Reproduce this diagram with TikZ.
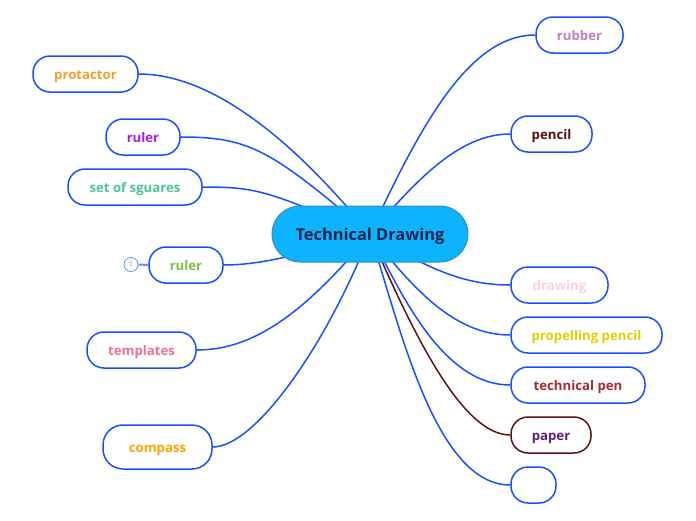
\documentclass[tikz,border=0pt]{standalone}
\usepackage{fontspec}
\setmainfont{Open Sans}
\usetikzlibrary{calc}
\pgfdeclarelayer{bg}
\pgfsetlayers{bg,main}
\definecolor{eb}{HTML}{1A4FFF}
\definecolor{onecol}{HTML}{6A8CFF}
\definecolor{cfill}{HTML}{0BB4FD}
\definecolor{cborder}{HTML}{3A8CC0}
\definecolor{ctext}{HTML}{0C2450}
\definecolor{brownline}{HTML}{5A1414}
\definecolor{cprot}{HTML}{F0A030}
\definecolor{crulerp}{HTML}{A020F0}
\definecolor{csets}{HTML}{50C0A0}
\definecolor{crulerg}{HTML}{80C040}
\definecolor{ctempl}{HTML}{F070A0}
\definecolor{ccomp}{HTML}{FFA500}
\definecolor{crubber}{HTML}{C080C0}
\definecolor{cpencil}{HTML}{501010}
\definecolor{cdrawing}{HTML}{FFD0E8}
\definecolor{cprop}{HTML}{E0D000}
\definecolor{ctpen}{HTML}{A03030}
\definecolor{cpaper}{HTML}{602080}
\begin{document}
\begin{tikzpicture}[x=1pt,y=-1pt,
  kid/.style={draw=eb, line width=1.5pt, rounded corners=17pt, fill=white,
    inner sep=0pt, minimum height=36pt, text height=12pt, text depth=1.4pt,
    font=\bfseries\fontsize{13.2}{15}\selectfont},
  link/.style={draw=eb, line width=1.5pt},
  hub/.style={draw=cborder, line width=1pt, fill=cfill, rounded corners=28pt,
    inner sep=0pt, minimum width=196pt, minimum height=56pt, text=ctext,
    text height=14pt, text depth=0.6pt,
    font=\bfseries\fontsize{16.4}{19}\selectfont}]
\useasboundingbox (0,0) rectangle (696,520);

\node[hub] (td) at (370,234) {Technical Drawing};

\node[kid, minimum width=105pt, text=cprot] (prot) at (85.5,74) {protactor};
\node[kid, minimum width=74pt, text=crulerp] (rulerp) at (143,137) {ruler};
\node[kid, minimum width=134pt, text=csets] (sets) at (135,187) {set of sguares};
\node[kid, minimum width=74pt, text=crulerg] (rulerg) at (186,265) {ruler};
\node[kid, minimum width=109pt, text=ctempl] (templ) at (141.5,350) {templates};
\node[kid, minimum width=109pt, minimum height=44pt, rounded corners=20pt, text=ccomp] (comp) at (157.5,447) {compass};

\node[kid, minimum width=87pt, text=crubber] (rubber) at (579.5,35) {rubber};
\node[kid, minimum width=81pt, text=cpencil] (pencil) at (551.5,134) {pencil};
\node[kid, minimum width=97pt, text=cdrawing] (drawing) at (559.5,285) {drawing};
\node[kid, minimum width=151pt, text=cprop] (prop) at (586.5,335) {propelling pencil};
\node[kid, minimum width=134pt, text=ctpen] (tpen) at (578,385) {technical pen};
\node[kid, minimum width=80pt, draw=brownline, text=cpaper] (paper) at (551,435) {paper};
\node[kid, minimum width=45pt] (empty) at (533.5,485) {};

\node[circle, draw=onecol, line width=0.8pt, fill=white, inner sep=0pt, minimum size=14pt,
  text=onecol, font=\fontsize{8}{9}\selectfont] (one) at (131,264.5) {1};

\begin{pgfonlayer}{bg}
\draw[link] (prot.east) .. controls (210,74) and (290,136) .. (td.center);
\draw[link] (rulerp.east) .. controls (250,137) and (271,150) .. (td.center);
\draw[link] (sets.east) .. controls (260,187) and (268,192) .. (td.center);
\draw[link] (rulerg.east) .. controls (260,265) and (300,255) .. (td.center);
\draw[link] (templ.east) .. controls (250,350) and (301,318) .. (td.center);
\draw[link] (comp.east) .. controls (255,447) and (326,346) .. (td.center);
\draw[link] (rubber.west) .. controls (470,35) and (422,122) .. (td.center);
\draw[link] (pencil.west) .. controls (460,134) and (418,178) .. (td.center);
\draw[link] (drawing.west) .. controls (465,285) and (430,270) .. (td.center);
\draw[link] (prop.west) .. controls (455,335) and (414,290) .. (td.center);
\draw[link] (tpen.west) .. controls (440,385) and (398,286) .. (td.center);
\draw[link, draw=brownline] (paper.west) .. controls (465,435) and (418,346) .. (td.center);
\draw[link] (empty.west) .. controls (435,485) and (400,326) .. (td.center);
\draw[draw=onecol, line width=2pt] (one.east) -- (rulerg.west);
\end{pgfonlayer}
\end{tikzpicture}
\end{document}
